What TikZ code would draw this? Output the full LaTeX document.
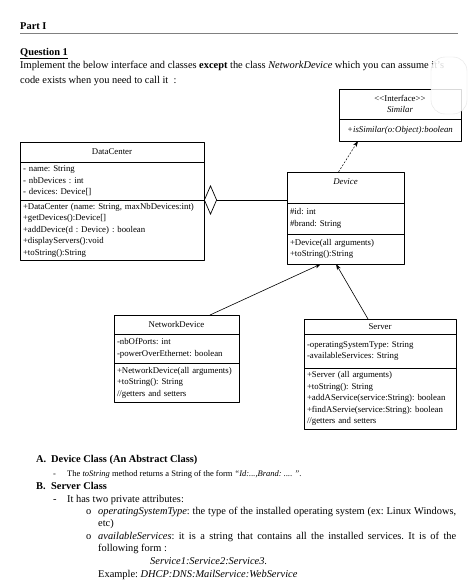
\documentclass[tikz,border=0pt]{standalone}
\usepackage{fontspec}
\setmainfont{Liberation Serif}
\usetikzlibrary{arrows.meta,calc}
\frenchspacing
\newcommand\umlfont{\fontsize{8.8}{11.5}\selectfont}
\newcommand\txtfont{\fontsize{10.4}{13}\selectfont}
\newcommand\smallfont{\fontsize{8.5}{10}\selectfont}
\begin{document}
\begin{tikzpicture}[x=1pt,y=-1pt,line join=round,>={Stealth[length=6pt,width=4pt]},
	part/.style={draw,line width=0.7pt,anchor=north west,outer sep=0pt,inner xsep=3pt,inner ysep=1pt,font=\umlfont,align=left},
	txt/.style={anchor=base west,inner sep=0pt,font=\txtfont}]
	\useasboundingbox[fill=white] (0,0) rectangle (474,583);
	\node[txt,font=\txtfont\bfseries] (part) at (20,29.5) {Part I};
	\draw[gray,line width=1.3pt] (20,33.5) -- (458,33.5);
	\node[txt] (question) at (20,55.5) {\underline{\textbf{Question 1}}};
	\node[txt] (task1) at (20,69) {Implement the below interface and classes \textbf{except} the class \textit{NetworkDevice} which you can assume it's};
	\node[txt] (task2) at (20,84) {code exists when you need to call it \ :};
	
	\node[part,text width=116pt,minimum height=30pt,align=center] (simTitle) at (339,89) {<\kern0pt<Interface>\kern0pt>\\\textit{Similar}};
	\node[part,text width=116pt,minimum height=22pt,align=center] (simMeth) at (simTitle.south west) {\textit{+isSimilar(o:Object):boolean}};
	
	\node[part,text width=178pt,minimum height=20pt,align=center] (dcTitle) at (20,142) {DataCenter};
	\node[part,text width=178pt,minimum height=38pt] (dcAttr) at (dcTitle.south west) {- name: String\\- nbDevices : int\\- devices: Device[]};
	\node[part,text width=178pt,minimum height=60pt] (dcMeth) at (dcAttr.south west) {+DataCenter (name: String, maxNbDevices:int)\\+getDevices():Device[]\\+addDevice(d : Device) : boolean\\+displayServers():void\\+toString():String};
	
	\node[part,text width=111pt,minimum height=31pt,align=center] (devTitle) at (287,172) {\textit{Device}\\\mbox{}};
	\node[part,text width=111pt,minimum height=31pt] (devAttr) at (devTitle.south west) {\#id: int\\\#brand: String};
	\node[part,text width=111pt,minimum height=30pt] (devMeth) at (devAttr.south west) {+Device(all arguments)\\+toString():String};
	
	\node[part,text width=119pt,minimum height=19pt,align=center] (netTitle) at (114,315) {NetworkDevice};
	\node[part,text width=119pt,minimum height=29pt] (netAttr) at (netTitle.south west) {-nbOfPorts: int\\-powerOverEthernet: boolean};
	\node[part,text width=119pt,minimum height=39pt] (netMeth) at (netAttr.south west) {+NetworkDevice(all arguments)\\+toString(): String\\//getters and setters};
	
	\node[part,text width=146pt,minimum height=15pt,align=center] (srvTitle) at (304,319) {Server};
	\node[part,text width=146pt,minimum height=34pt] (srvAttr) at (srvTitle.south west) {-operatingSystemType: String\\-availableServices: String};
	\node[part,text width=146pt,minimum height=61pt] (srvMeth) at (srvAttr.south west) {+Server (all arguments)\\+toString(): String\\+addAService(service:String): boolean\\+findAServie(service:String): boolean\\//getters and setters};
	
	\draw[line width=0.6pt,{Diamond[open,length=13pt,width=30pt,line width=0.7pt]}-] (dcAttr.south east) -- (dcAttr.south east -| devTitle.west);
	\draw[line width=0.5pt,dash pattern=on 2pt off 1.5pt,->] ($(devTitle.north)+(-7,0)$) -- ($(simMeth.south)+(-42,0)$);
	\draw[line width=0.6pt,->] ($(netTitle.north)+(33.5,0)$) -- ($(devMeth.south)+(-24.5,0)$);
	\draw[line width=0.6pt,->] ($(srvTitle.north)+(-12,0)$) -- ($(devMeth.south)+(-9.5,0)$);
	
	\node[txt,font=\txtfont\bfseries] (itemA) at (36,462.5) {A.};
	\node[txt,font=\txtfont\bfseries] (headA) at (51,462.5) {Device Class (An Abstract Class)};
	\node[txt,font=\smallfont] (dashA) at (53,476) {-};
	\node[txt,font=\smallfont] (lineA) at (67,476) {The \textit{toString} method returns a String of the form \textit{``Id:...,Brand: .... ''}.};
	\node[txt,font=\txtfont\bfseries] (itemB) at (36,489.5) {B.};
	\node[txt,font=\txtfont\bfseries] (headB) at (51,489.5) {Server Class};
	\node[txt] (dashB) at (53,502.5) {-};
	\node[txt] (lineB) at (67,502.5) {It has two private attributes:};
	\node[txt] (bulletOne) at (86,514.5) {o};
	\node[txt] (osLine) at (98,514.5) {\makebox[358pt][s]{\textit{operatingSystemType}: the type of the installed operating system (ex: Linux Windows,}};
	\node[txt] (osEnd) at (98,526.5) {etc)};
	\node[txt] (bulletTwo) at (86,539.5) {o};
	\node[txt] (svLine) at (98,539.5) {\makebox[358pt][s]{\textit{availableServices}: it is a string that contains all the installed services. It is of the}};
	\node[txt] (svEnd) at (98,551.5) {following form :};
	\node[txt] (svForm) at (150,564.5) {\textit{Service1:Service2:Service3.}};
	\node[txt] (svExample) at (98,577.5) {Example: \textit{DHCP:DNS:MailService:WebService}};
	
	\fill[white,fill opacity=0.85,draw=gray!20,draw opacity=1,line width=0.4pt,rounded corners=14pt] (431,57) rectangle (467,114);
\end{tikzpicture}
\end{document}
